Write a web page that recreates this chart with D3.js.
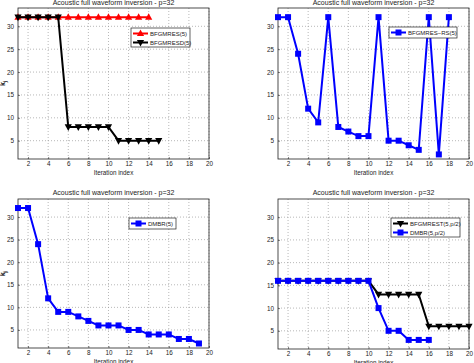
<!DOCTYPE html>
<html>
<head>
<meta charset="utf-8">
<script src="https://cdn.jsdelivr.net/npm/d3@7"></script>
<style>
  body { margin: 0; background: #fff; }
  svg { display: block; font-family: "Liberation Sans", Arial, sans-serif; }
  .tick text { font-size: 6.3px; fill: #222; }
</style>
</head>
<body>
<svg id="chart" width="474" height="363"></svg>
<script>
const width = 474, height = 363;
const titleText = "Acoustic full waveform inversion - p=32";
const xTicks = [2, 4, 6, 8, 10, 12, 14, 16, 18, 20];
const yTicks = [5, 10, 15, 20, 25, 30];

// top left
const bfgmresX = [1, 2, 3, 4, 5, 6, 7, 8, 9, 10, 11, 12, 13, 14];
const bfgmresY = [32, 32, 32, 32, 32, 32, 32, 32, 32, 32, 32, 32, 32, 32];
const bfgmresdX = [1, 2, 3, 4, 5, 6, 7, 8, 9, 10, 11, 12, 13, 14, 15];
const bfgmresdY = [32, 32, 32, 32, 32, 8, 8, 8, 8, 8, 5, 5, 5, 5, 5];

// top right
const rsX = [1, 2, 3, 4, 5, 6, 7, 8, 9, 10, 11, 12, 13, 14, 15, 16, 17, 18];
const rsY = [32, 32, 24, 12, 9, 32, 8, 7, 6, 6, 32, 5, 5, 4, 3, 32, 2, 32];

// bottom left
const dmbrX = [1, 2, 3, 4, 5, 6, 7, 8, 9, 10, 11, 12, 13, 14, 15, 16, 17, 18, 19];
const dmbrY = [32, 32, 24, 12, 9, 9, 8, 7, 6, 6, 6, 5, 5, 4, 4, 4, 3, 3, 2];

// bottom right
const bfgmrestX = [1, 2, 3, 4, 5, 6, 7, 8, 9, 10, 11, 12, 13, 14, 15, 16, 17, 18, 19, 20];
const bfgmrestY = [16, 16, 16, 16, 16, 16, 16, 16, 16, 16, 13, 13, 13, 13, 13, 6, 6, 6, 6, 6];
const dmbrHalfX = [1, 2, 3, 4, 5, 6, 7, 8, 9, 10, 11, 12, 13, 14, 15, 16];
const dmbrHalfY = [16, 16, 16, 16, 16, 16, 16, 16, 16, 16, 10, 5, 5, 3, 3, 3];

const zip = (xs, ys) => xs.map((x, i) => ({ x: x, y: ys[i] }));

const panels = [
  { left: 18, right: 209, top: 8, bottom: 159, titleY: 5,
    legend: { x: 131, y: 28, w: 59, h: 19 },
    series: [
      { name: "BFGMRES(5)", data: zip(bfgmresX, bfgmresY), color: "#ff0000", marker: "up" },
      { name: "BFGMRESD(5)", data: zip(bfgmresdX, bfgmresdY), color: "#000000", marker: "down" }
    ] },
  { left: 278, right: 469, top: 8, bottom: 159, titleY: 5,
    legend: { x: 389, y: 27, w: 68, h: 11 },
    series: [
      { name: "BFGMRES\u2212RS(5)", data: zip(rsX, rsY), color: "#0000ff", marker: "square" }
    ] },
  { left: 18, right: 209, top: 199, bottom: 348, titleY: 195,
    legend: { x: 129, y: 218, w: 47, h: 11 },
    series: [
      { name: "DMBR(5)", data: zip(dmbrX, dmbrY), color: "#0000ff", marker: "square" }
    ] },
  { left: 278, right: 469, top: 199, bottom: 349, titleY: 195,
    legend: { x: 391, y: 218, w: 69, h: 19 },
    series: [
      { name: "BFGMREST(5,p/2)", data: zip(bfgmrestX, bfgmrestY), color: "#000000", marker: "down" },
      { name: "DMBR(5,p/2)", data: zip(dmbrHalfX, dmbrHalfY), color: "#0000ff", marker: "square" }
    ] }
];

const svg = d3.select("#chart");

//draws one marker centred at 0,0
function drawMarker(g, type, color) {
  if (type === "square") {
    g.append("rect").attr("x", -3).attr("y", -3).attr("width", 6).attr("height", 6).attr("fill", color);
  } else if (type === "up") {
    g.append("path").attr("d", "M0,-4L3.6,2.6L-3.6,2.6Z").attr("fill", color);
  } else {
    g.append("path").attr("d", "M0,4L3.6,-2.6L-3.6,-2.6Z").attr("fill", color);
  }
}

panels.forEach(p => {
  const x = d3.scaleLinear().domain([1, 20]).range([p.left, p.right]);
  const y = d3.scaleLinear().domain([1, 34]).range([p.bottom, p.top]);
  const g = svg.append("g");

  //dotted grid
  g.selectAll(".gx").data(xTicks).join("line")
    .attr("x1", d => x(d)).attr("x2", d => x(d)).attr("y1", p.top).attr("y2", p.bottom)
    .attr("stroke", "#999").attr("stroke-width", 0.7).attr("stroke-dasharray", "1,2");
  g.selectAll(".gy").data(yTicks).join("line")
    .attr("x1", p.left).attr("x2", p.right).attr("y1", d => y(d)).attr("y2", d => y(d))
    .attr("stroke", "#999").attr("stroke-width", 0.7).attr("stroke-dasharray", "1,2");

  //axes
  const ax = g.append("g").attr("transform", `translate(0,${p.bottom})`)
    .call(d3.axisBottom(x).tickValues(xTicks).tickSizeInner(-2).tickSizeOuter(0).tickPadding(3));
  const ay = g.append("g").attr("transform", `translate(${p.left},0)`)
    .call(d3.axisLeft(y).tickValues(yTicks).tickSizeInner(-2).tickSizeOuter(0).tickPadding(4));
  [ax, ay].forEach(a => {
    a.select(".domain").remove();
    a.selectAll(".tick line").attr("stroke", "#333").attr("stroke-width", 0.6);
  });

  //frame
  g.append("rect").attr("x", p.left).attr("y", p.top)
    .attr("width", p.right - p.left).attr("height", p.bottom - p.top)
    .attr("fill", "none").attr("stroke", "#222").attr("stroke-width", 0.8);

  //title and axis labels
  g.append("text").attr("x", (p.left + p.right) / 2).attr("y", p.titleY)
    .attr("text-anchor", "middle").attr("font-size", 7).attr("fill", "#222").text(titleText);
  g.append("text").attr("x", (p.left + p.right) / 2).attr("y", p.bottom + 15.5)
    .attr("text-anchor", "middle").attr("font-size", 6.3).attr("fill", "#222").text("Iteration index");
  const yl = g.append("text")
    .attr("transform", `translate(5,${(p.top + p.bottom) / 2}) rotate(-90)`)
    .attr("text-anchor", "middle").attr("font-size", 7).attr("fill", "#222");
  yl.append("tspan").text("k");
  yl.append("tspan").attr("font-size", 5).attr("dy", 1.5).text("j");

  //series
  const line = d3.line().x(d => x(d.x)).y(d => y(d.y));
  p.series.forEach(s => {
    g.append("path").datum(s.data).attr("d", line)
      .attr("fill", "none").attr("stroke", s.color).attr("stroke-width", 2);
    s.data.forEach(d => {
      drawMarker(g.append("g").attr("transform", `translate(${x(d.x)},${y(d.y)})`), s.marker, s.color);
    });
  });

  //legend
  const L = p.legend;
  const lg = g.append("g");
  lg.append("rect").attr("x", L.x).attr("y", L.y).attr("width", L.w).attr("height", L.h)
    .attr("fill", "#fff").attr("stroke", "#222").attr("stroke-width", 0.7);
  p.series.forEach((s, i) => {
    const cy = L.y + 5.5 + i * 9;
    lg.append("line").attr("x1", L.x + 2).attr("x2", L.x + 17).attr("y1", cy).attr("y2", cy)
      .attr("stroke", s.color).attr("stroke-width", 2);
    drawMarker(lg.append("g").attr("transform", `translate(${L.x + 9.5},${cy})`), s.marker, s.color);
    lg.append("text").attr("x", L.x + 19).attr("y", cy + 2.2)
      .attr("font-size", 6).attr("fill", "#222").text(s.name);
  });
});
</script>
</body>
</html>
